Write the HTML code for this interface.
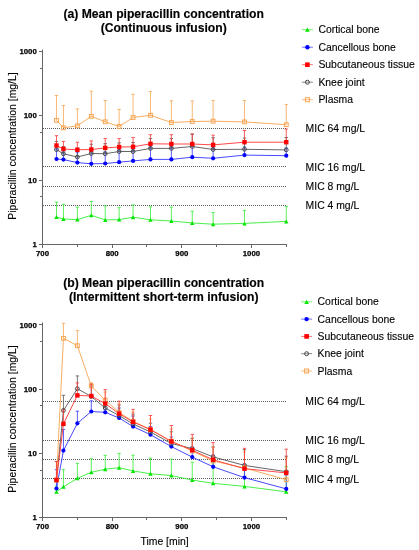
<!DOCTYPE html>
<html><head><meta charset="utf-8"><style>
html,body{margin:0;padding:0;background:#fff;width:419px;height:550px;overflow:hidden}
svg{display:block;will-change:transform}
.t{font-family:"Liberation Sans",sans-serif;font-size:10.4px;fill:#000;stroke:#000;stroke-width:0.12px}
.tk{font-family:"Liberation Sans",sans-serif;font-size:7.8px;font-weight:bold;fill:#000;stroke:#000;stroke-width:0.25px}
.ti{font-family:"Liberation Sans",sans-serif;font-size:12.15px;font-weight:bold;fill:#000;stroke:#000;stroke-width:0.15px}
</style></head><body>
<svg width="419" height="550" viewBox="0 0 419 550">
<path d="M43.0 128.50H287" stroke="#5a5a5a" stroke-width="1" stroke-dasharray="1 1" fill="none"/>
<text x="305.6" y="131.78" class="t">MIC 64 mg/L</text>
<path d="M43.0 166.50H287" stroke="#5a5a5a" stroke-width="1" stroke-dasharray="1 1" fill="none"/>
<text x="305.6" y="170.55" class="t">MIC 16 mg/L</text>
<path d="M43.0 186.50H287" stroke="#5a5a5a" stroke-width="1" stroke-dasharray="1 1" fill="none"/>
<text x="305.6" y="189.94" class="t">MIC 8 mg/L</text>
<path d="M43.0 205.50H287" stroke="#5a5a5a" stroke-width="1" stroke-dasharray="1 1" fill="none"/>
<text x="305.6" y="209.33" class="t">MIC 4 mg/L</text>
<path d="M42.5 49.50V245.00M42.0 244.50H287" stroke="#666" stroke-width="1" fill="none"/>
<path d="M39.0 51.50H42.5" stroke="#666" stroke-width="1"/>
<text x="36.8" y="54.00" class="tk" text-anchor="end">1000</text>
<path d="M39.0 115.50H42.5" stroke="#666" stroke-width="1"/>
<text x="36.8" y="118.40" class="tk" text-anchor="end">100</text>
<path d="M39.0 180.50H42.5" stroke="#666" stroke-width="1"/>
<text x="36.8" y="182.80" class="tk" text-anchor="end">10</text>
<path d="M39.0 244.50H42.5" stroke="#666" stroke-width="1"/>
<text x="36.8" y="247.20" class="tk" text-anchor="end">1</text>
<path d="M40.0 68.50H42.5" stroke="#666" stroke-width="1"/>
<path d="M40.0 132.50H42.5" stroke="#666" stroke-width="1"/>
<path d="M40.0 196.50H42.5" stroke="#666" stroke-width="1"/>
<path d="M42.50 244.5V248.0" stroke="#666" stroke-width="1"/>
<text x="42.55" y="256.10" class="tk" text-anchor="middle">700</text>
<path d="M112.50 244.5V248.0" stroke="#666" stroke-width="1"/>
<text x="112.18" y="256.10" class="tk" text-anchor="middle">800</text>
<path d="M181.50 244.5V248.0" stroke="#666" stroke-width="1"/>
<text x="181.81" y="256.10" class="tk" text-anchor="middle">900</text>
<path d="M251.50 244.5V248.0" stroke="#666" stroke-width="1"/>
<text x="251.44" y="256.10" class="tk" text-anchor="middle">1000</text>
<path d="M77.50 244.5V247.0" stroke="#666" stroke-width="1"/>
<path d="M146.50 244.5V247.0" stroke="#666" stroke-width="1"/>
<path d="M216.50 244.5V247.0" stroke="#666" stroke-width="1"/>
<path d="M286.50 244.5V247.0" stroke="#666" stroke-width="1"/>
<text x="163.7" y="17.90" class="ti" text-anchor="middle">(a) Mean piperacillin concentration</text>
<text x="163.7" y="31.85" class="ti" text-anchor="middle">(Continuous infusion)</text>
<text x="0" y="0" class="t" text-anchor="middle" transform="translate(15.6 146) rotate(-90)">Piperacillin concentration [mg/L]</text>
<path d="M301.9 29.70H312.9" stroke="#33ee33" stroke-width="1" stroke-opacity="0.7"/>
<path d="M305.09 31.80L307.40 27.60L309.71 31.80Z" fill="#00e600"/>
<text x="318.4" y="33.30" class="t">Cortical bone</text>
<path d="M301.9 47.20H312.9" stroke="#3333ff" stroke-width="1" stroke-opacity="0.7"/>
<circle cx="307.40" cy="47.20" r="2.21" fill="#0000ff"/>
<text x="318.4" y="50.80" class="t">Cancellous bone</text>
<path d="M301.9 64.70H312.9" stroke="#ff3333" stroke-width="1" stroke-opacity="0.7"/>
<rect x="305.09" y="62.39" width="4.62" height="4.62" fill="#ff0000"/>
<text x="318.4" y="68.30" class="t">Subcutaneous tissue</text>
<path d="M301.9 82.20H312.9" stroke="#555555" stroke-width="1" stroke-opacity="0.7"/>
<circle cx="307.40" cy="82.20" r="1.99" fill="none" stroke="#444444" stroke-width="1"/>
<text x="318.4" y="85.80" class="t">Knee joint</text>
<path d="M301.9 99.70H312.9" stroke="#f7a450" stroke-width="1" stroke-opacity="0.7"/>
<rect x="305.40" y="97.70" width="3.99" height="3.99" fill="none" stroke="#f7a450" stroke-width="1"/>
<text x="318.4" y="103.30" class="t">Plasma</text>
<path d="M56.48 217.10V202.10M54.78 202.10H58.18" stroke="#33ee33" stroke-width="0.8" fill="none"/>
<path d="M63.44 219.00V204.40M61.74 204.40H65.14" stroke="#33ee33" stroke-width="0.8" fill="none"/>
<path d="M77.37 219.60V207.20M75.67 207.20H79.07" stroke="#33ee33" stroke-width="0.8" fill="none"/>
<path d="M91.29 215.30V201.50M89.59 201.50H92.99" stroke="#33ee33" stroke-width="0.8" fill="none"/>
<path d="M105.22 219.90V205.80M103.52 205.80H106.92" stroke="#33ee33" stroke-width="0.8" fill="none"/>
<path d="M119.14 219.60V207.70M117.44 207.70H120.84" stroke="#33ee33" stroke-width="0.8" fill="none"/>
<path d="M133.07 217.20V204.80M131.37 204.80H134.77" stroke="#33ee33" stroke-width="0.8" fill="none"/>
<path d="M150.48 219.80V206.80M148.78 206.80H152.18" stroke="#33ee33" stroke-width="0.8" fill="none"/>
<path d="M171.37 221.00V207.20M169.67 207.20H173.07" stroke="#33ee33" stroke-width="0.8" fill="none"/>
<path d="M192.25 223.00V211.20M190.55 211.20H193.95" stroke="#33ee33" stroke-width="0.8" fill="none"/>
<path d="M213.14 224.20V212.50M211.44 212.50H214.84" stroke="#33ee33" stroke-width="0.8" fill="none"/>
<path d="M244.48 223.40V210.40M242.78 210.40H246.18" stroke="#33ee33" stroke-width="0.8" fill="none"/>
<path d="M286.25 221.40V206.40M284.56 206.40H287.95" stroke="#33ee33" stroke-width="0.8" fill="none"/>
<path d="M56.48 217.10 L63.44 219.00 L77.37 219.60 L91.29 215.30 L105.22 219.90 L119.14 219.60 L133.07 217.20 L150.48 219.80 L171.37 221.00 L192.25 223.00 L213.14 224.20 L244.48 223.40 L286.25 221.40" stroke="#33ee33" stroke-width="0.9" fill="none"/>
<path d="M54.28 219.10L56.48 215.10L58.68 219.10Z" fill="#00e600"/>
<path d="M61.24 221.00L63.44 217.00L65.64 221.00Z" fill="#00e600"/>
<path d="M75.17 221.60L77.37 217.60L79.57 221.60Z" fill="#00e600"/>
<path d="M89.09 217.30L91.29 213.30L93.49 217.30Z" fill="#00e600"/>
<path d="M103.02 221.90L105.22 217.90L107.42 221.90Z" fill="#00e600"/>
<path d="M116.94 221.60L119.14 217.60L121.34 221.60Z" fill="#00e600"/>
<path d="M130.87 219.20L133.07 215.20L135.27 219.20Z" fill="#00e600"/>
<path d="M148.28 221.80L150.48 217.80L152.68 221.80Z" fill="#00e600"/>
<path d="M169.17 223.00L171.37 219.00L173.57 223.00Z" fill="#00e600"/>
<path d="M190.05 225.00L192.25 221.00L194.45 225.00Z" fill="#00e600"/>
<path d="M210.94 226.20L213.14 222.20L215.34 226.20Z" fill="#00e600"/>
<path d="M242.28 225.40L244.48 221.40L246.68 225.40Z" fill="#00e600"/>
<path d="M284.06 223.40L286.25 219.40L288.45 223.40Z" fill="#00e600"/>
<path d="M56.48 159.00V149.00M54.78 149.00H58.18" stroke="#3333ff" stroke-width="0.8" fill="none"/>
<path d="M63.44 159.60V152.00M61.74 152.00H65.14" stroke="#3333ff" stroke-width="0.8" fill="none"/>
<path d="M77.37 162.60V152.20M75.67 152.20H79.07" stroke="#3333ff" stroke-width="0.8" fill="none"/>
<path d="M91.29 163.80V151.50M89.59 151.50H92.99" stroke="#3333ff" stroke-width="0.8" fill="none"/>
<path d="M105.22 163.50V152.00M103.52 152.00H106.92" stroke="#3333ff" stroke-width="0.8" fill="none"/>
<path d="M119.14 162.20V150.00M117.44 150.00H120.84" stroke="#3333ff" stroke-width="0.8" fill="none"/>
<path d="M133.07 160.90V150.00M131.37 150.00H134.77" stroke="#3333ff" stroke-width="0.8" fill="none"/>
<path d="M150.48 159.40V147.00M148.78 147.00H152.18" stroke="#3333ff" stroke-width="0.8" fill="none"/>
<path d="M171.37 159.40V147.00M169.67 147.00H173.07" stroke="#3333ff" stroke-width="0.8" fill="none"/>
<path d="M192.25 157.20V145.00M190.55 145.00H193.95" stroke="#3333ff" stroke-width="0.8" fill="none"/>
<path d="M213.14 158.30V148.00M211.44 148.00H214.84" stroke="#3333ff" stroke-width="0.8" fill="none"/>
<path d="M244.48 155.10V147.00M242.78 147.00H246.18" stroke="#3333ff" stroke-width="0.8" fill="none"/>
<path d="M286.25 155.70V148.00M284.56 148.00H287.95" stroke="#3333ff" stroke-width="0.8" fill="none"/>
<path d="M56.48 159.00 L63.44 159.60 L77.37 162.60 L91.29 163.80 L105.22 163.50 L119.14 162.20 L133.07 160.90 L150.48 159.40 L171.37 159.40 L192.25 157.20 L213.14 158.30 L244.48 155.10 L286.25 155.70" stroke="#3333ff" stroke-width="0.9" fill="none"/>
<circle cx="56.48" cy="159.00" r="2.10" fill="#0000ff"/>
<circle cx="63.44" cy="159.60" r="2.10" fill="#0000ff"/>
<circle cx="77.37" cy="162.60" r="2.10" fill="#0000ff"/>
<circle cx="91.29" cy="163.80" r="2.10" fill="#0000ff"/>
<circle cx="105.22" cy="163.50" r="2.10" fill="#0000ff"/>
<circle cx="119.14" cy="162.20" r="2.10" fill="#0000ff"/>
<circle cx="133.07" cy="160.90" r="2.10" fill="#0000ff"/>
<circle cx="150.48" cy="159.40" r="2.10" fill="#0000ff"/>
<circle cx="171.37" cy="159.40" r="2.10" fill="#0000ff"/>
<circle cx="192.25" cy="157.20" r="2.10" fill="#0000ff"/>
<circle cx="213.14" cy="158.30" r="2.10" fill="#0000ff"/>
<circle cx="244.48" cy="155.10" r="2.10" fill="#0000ff"/>
<circle cx="286.25" cy="155.70" r="2.10" fill="#0000ff"/>
<path d="M56.48 149.60V141.40M54.78 141.40H58.18" stroke="#555555" stroke-width="0.8" fill="none"/>
<path d="M63.44 153.80V146.50M61.74 146.50H65.14" stroke="#555555" stroke-width="0.8" fill="none"/>
<path d="M77.37 157.00V148.00M75.67 148.00H79.07" stroke="#555555" stroke-width="0.8" fill="none"/>
<path d="M91.29 153.50V144.20M89.59 144.20H92.99" stroke="#555555" stroke-width="0.8" fill="none"/>
<path d="M105.22 153.70V143.60M103.52 143.60H106.92" stroke="#555555" stroke-width="0.8" fill="none"/>
<path d="M119.14 151.50V142.90M117.44 142.90H120.84" stroke="#555555" stroke-width="0.8" fill="none"/>
<path d="M133.07 151.50V142.50M131.37 142.50H134.77" stroke="#555555" stroke-width="0.8" fill="none"/>
<path d="M150.48 148.40V138.60M148.78 138.60H152.18" stroke="#555555" stroke-width="0.8" fill="none"/>
<path d="M171.37 148.40V138.60M169.67 138.60H173.07" stroke="#555555" stroke-width="0.8" fill="none"/>
<path d="M192.25 146.50V134.30M190.55 134.30H193.95" stroke="#555555" stroke-width="0.8" fill="none"/>
<path d="M213.14 149.50V137.70M211.44 137.70H214.84" stroke="#555555" stroke-width="0.8" fill="none"/>
<path d="M244.48 149.30V138.10M242.78 138.10H246.18" stroke="#555555" stroke-width="0.8" fill="none"/>
<path d="M286.25 149.90V137.50M284.56 137.50H287.95" stroke="#555555" stroke-width="0.8" fill="none"/>
<path d="M56.48 149.60 L63.44 153.80 L77.37 157.00 L91.29 153.50 L105.22 153.70 L119.14 151.50 L133.07 151.50 L150.48 148.40 L171.37 148.40 L192.25 146.50 L213.14 149.50 L244.48 149.30 L286.25 149.90" stroke="#555555" stroke-width="0.9" fill="none"/>
<circle cx="56.48" cy="149.60" r="1.90" fill="none" stroke="#444444" stroke-width="1"/>
<circle cx="63.44" cy="153.80" r="1.90" fill="none" stroke="#444444" stroke-width="1"/>
<circle cx="77.37" cy="157.00" r="1.90" fill="none" stroke="#444444" stroke-width="1"/>
<circle cx="91.29" cy="153.50" r="1.90" fill="none" stroke="#444444" stroke-width="1"/>
<circle cx="105.22" cy="153.70" r="1.90" fill="none" stroke="#444444" stroke-width="1"/>
<circle cx="119.14" cy="151.50" r="1.90" fill="none" stroke="#444444" stroke-width="1"/>
<circle cx="133.07" cy="151.50" r="1.90" fill="none" stroke="#444444" stroke-width="1"/>
<circle cx="150.48" cy="148.40" r="1.90" fill="none" stroke="#444444" stroke-width="1"/>
<circle cx="171.37" cy="148.40" r="1.90" fill="none" stroke="#444444" stroke-width="1"/>
<circle cx="192.25" cy="146.50" r="1.90" fill="none" stroke="#444444" stroke-width="1"/>
<circle cx="213.14" cy="149.50" r="1.90" fill="none" stroke="#444444" stroke-width="1"/>
<circle cx="244.48" cy="149.30" r="1.90" fill="none" stroke="#444444" stroke-width="1"/>
<circle cx="286.25" cy="149.90" r="1.90" fill="none" stroke="#444444" stroke-width="1"/>
<path d="M56.48 120.40V95.50M54.78 95.50H58.18" stroke="#f7a450" stroke-width="0.8" fill="none"/>
<path d="M63.44 127.80V105.50M61.74 105.50H65.14" stroke="#f7a450" stroke-width="0.8" fill="none"/>
<path d="M77.37 125.80V108.90M75.67 108.90H79.07" stroke="#f7a450" stroke-width="0.8" fill="none"/>
<path d="M91.29 116.30V91.20M89.59 91.20H92.99" stroke="#f7a450" stroke-width="0.8" fill="none"/>
<path d="M105.22 121.80V100.50M103.52 100.50H106.92" stroke="#f7a450" stroke-width="0.8" fill="none"/>
<path d="M119.14 126.50V109.40M117.44 109.40H120.84" stroke="#f7a450" stroke-width="0.8" fill="none"/>
<path d="M133.07 117.50V94.30M131.37 94.30H134.77" stroke="#f7a450" stroke-width="0.8" fill="none"/>
<path d="M150.48 115.30V91.50M148.78 91.50H152.18" stroke="#f7a450" stroke-width="0.8" fill="none"/>
<path d="M171.37 122.50V100.80M169.67 100.80H173.07" stroke="#f7a450" stroke-width="0.8" fill="none"/>
<path d="M192.25 121.50V101.00M190.55 101.00H193.95" stroke="#f7a450" stroke-width="0.8" fill="none"/>
<path d="M213.14 121.20V100.50M211.44 100.50H214.84" stroke="#f7a450" stroke-width="0.8" fill="none"/>
<path d="M244.48 121.90V100.50M242.78 100.50H246.18" stroke="#f7a450" stroke-width="0.8" fill="none"/>
<path d="M286.25 124.70V104.60M284.56 104.60H287.95" stroke="#f7a450" stroke-width="0.8" fill="none"/>
<path d="M56.48 120.40 L63.44 127.80 L77.37 125.80 L91.29 116.30 L105.22 121.80 L119.14 126.50 L133.07 117.50 L150.48 115.30 L171.37 122.50 L192.25 121.50 L213.14 121.20 L244.48 121.90 L286.25 124.70" stroke="#f7a450" stroke-width="0.9" fill="none"/>
<rect x="54.58" y="118.50" width="3.80" height="3.80" fill="none" stroke="#f7a450" stroke-width="1"/>
<rect x="61.54" y="125.90" width="3.80" height="3.80" fill="none" stroke="#f7a450" stroke-width="1"/>
<rect x="75.47" y="123.90" width="3.80" height="3.80" fill="none" stroke="#f7a450" stroke-width="1"/>
<rect x="89.39" y="114.40" width="3.80" height="3.80" fill="none" stroke="#f7a450" stroke-width="1"/>
<rect x="103.32" y="119.90" width="3.80" height="3.80" fill="none" stroke="#f7a450" stroke-width="1"/>
<rect x="117.24" y="124.60" width="3.80" height="3.80" fill="none" stroke="#f7a450" stroke-width="1"/>
<rect x="131.17" y="115.60" width="3.80" height="3.80" fill="none" stroke="#f7a450" stroke-width="1"/>
<rect x="148.58" y="113.40" width="3.80" height="3.80" fill="none" stroke="#f7a450" stroke-width="1"/>
<rect x="169.47" y="120.60" width="3.80" height="3.80" fill="none" stroke="#f7a450" stroke-width="1"/>
<rect x="190.35" y="119.60" width="3.80" height="3.80" fill="none" stroke="#f7a450" stroke-width="1"/>
<rect x="211.24" y="119.30" width="3.80" height="3.80" fill="none" stroke="#f7a450" stroke-width="1"/>
<rect x="242.58" y="120.00" width="3.80" height="3.80" fill="none" stroke="#f7a450" stroke-width="1"/>
<rect x="284.36" y="122.80" width="3.80" height="3.80" fill="none" stroke="#f7a450" stroke-width="1"/>
<path d="M56.48 145.50V135.70M54.78 135.70H58.18" stroke="#ff3333" stroke-width="0.8" fill="none"/>
<path d="M63.44 149.00V141.40M61.74 141.40H65.14" stroke="#ff3333" stroke-width="0.8" fill="none"/>
<path d="M77.37 149.80V142.30M75.67 142.30H79.07" stroke="#ff3333" stroke-width="0.8" fill="none"/>
<path d="M91.29 149.50V140.90M89.59 140.90H92.99" stroke="#ff3333" stroke-width="0.8" fill="none"/>
<path d="M105.22 147.90V138.50M103.52 138.50H106.92" stroke="#ff3333" stroke-width="0.8" fill="none"/>
<path d="M119.14 147.00V138.50M117.44 138.50H120.84" stroke="#ff3333" stroke-width="0.8" fill="none"/>
<path d="M133.07 146.80V137.60M131.37 137.60H134.77" stroke="#ff3333" stroke-width="0.8" fill="none"/>
<path d="M150.48 143.80V134.70M148.78 134.70H152.18" stroke="#ff3333" stroke-width="0.8" fill="none"/>
<path d="M171.37 144.00V134.70M169.67 134.70H173.07" stroke="#ff3333" stroke-width="0.8" fill="none"/>
<path d="M192.25 144.00V133.90M190.55 133.90H193.95" stroke="#ff3333" stroke-width="0.8" fill="none"/>
<path d="M213.14 144.90V135.20M211.44 135.20H214.84" stroke="#ff3333" stroke-width="0.8" fill="none"/>
<path d="M244.48 142.20V130.40M242.78 130.40H246.18" stroke="#ff3333" stroke-width="0.8" fill="none"/>
<path d="M286.25 142.20V129.00M284.56 129.00H287.95" stroke="#ff3333" stroke-width="0.8" fill="none"/>
<path d="M56.48 145.50 L63.44 149.00 L77.37 149.80 L91.29 149.50 L105.22 147.90 L119.14 147.00 L133.07 146.80 L150.48 143.80 L171.37 144.00 L192.25 144.00 L213.14 144.90 L244.48 142.20 L286.25 142.20" stroke="#ff3333" stroke-width="0.9" fill="none"/>
<rect x="54.28" y="143.30" width="4.40" height="4.40" fill="#ff0000"/>
<rect x="61.24" y="146.80" width="4.40" height="4.40" fill="#ff0000"/>
<rect x="75.17" y="147.60" width="4.40" height="4.40" fill="#ff0000"/>
<rect x="89.09" y="147.30" width="4.40" height="4.40" fill="#ff0000"/>
<rect x="103.02" y="145.70" width="4.40" height="4.40" fill="#ff0000"/>
<rect x="116.94" y="144.80" width="4.40" height="4.40" fill="#ff0000"/>
<rect x="130.87" y="144.60" width="4.40" height="4.40" fill="#ff0000"/>
<rect x="148.28" y="141.60" width="4.40" height="4.40" fill="#ff0000"/>
<rect x="169.17" y="141.80" width="4.40" height="4.40" fill="#ff0000"/>
<rect x="190.05" y="141.80" width="4.40" height="4.40" fill="#ff0000"/>
<rect x="210.94" y="142.70" width="4.40" height="4.40" fill="#ff0000"/>
<rect x="242.28" y="140.00" width="4.40" height="4.40" fill="#ff0000"/>
<rect x="284.06" y="140.00" width="4.40" height="4.40" fill="#ff0000"/>
<path d="M43.0 401.50H287" stroke="#5a5a5a" stroke-width="1" stroke-dasharray="1 1" fill="none"/>
<text x="305.3" y="405.15" class="t">MIC 64 mg/L</text>
<path d="M43.0 440.50H287" stroke="#5a5a5a" stroke-width="1" stroke-dasharray="1 1" fill="none"/>
<text x="305.3" y="443.84" class="t">MIC 16 mg/L</text>
<path d="M43.0 459.50H287" stroke="#5a5a5a" stroke-width="1" stroke-dasharray="1 1" fill="none"/>
<text x="305.3" y="463.18" class="t">MIC 8 mg/L</text>
<path d="M43.0 478.50H287" stroke="#5a5a5a" stroke-width="1" stroke-dasharray="1 1" fill="none"/>
<text x="305.3" y="482.52" class="t">MIC 4 mg/L</text>
<path d="M42.5 322.50V518.00M42.0 517.50H287" stroke="#666" stroke-width="1" fill="none"/>
<path d="M39.0 324.50H42.5" stroke="#666" stroke-width="1"/>
<text x="36.8" y="327.55" class="tk" text-anchor="end">1000</text>
<path d="M39.0 389.50H42.5" stroke="#666" stroke-width="1"/>
<text x="36.8" y="391.80" class="tk" text-anchor="end">100</text>
<path d="M39.0 453.50H42.5" stroke="#666" stroke-width="1"/>
<text x="36.8" y="456.05" class="tk" text-anchor="end">10</text>
<path d="M39.0 517.50H42.5" stroke="#666" stroke-width="1"/>
<text x="36.8" y="520.30" class="tk" text-anchor="end">1</text>
<path d="M40.0 341.50H42.5" stroke="#666" stroke-width="1"/>
<path d="M40.0 405.50H42.5" stroke="#666" stroke-width="1"/>
<path d="M40.0 470.50H42.5" stroke="#666" stroke-width="1"/>
<path d="M42.50 517.5V521.0" stroke="#666" stroke-width="1"/>
<text x="42.55" y="529.20" class="tk" text-anchor="middle">700</text>
<path d="M112.50 517.5V521.0" stroke="#666" stroke-width="1"/>
<text x="112.18" y="529.20" class="tk" text-anchor="middle">800</text>
<path d="M181.50 517.5V521.0" stroke="#666" stroke-width="1"/>
<text x="181.81" y="529.20" class="tk" text-anchor="middle">900</text>
<path d="M251.50 517.5V521.0" stroke="#666" stroke-width="1"/>
<text x="251.44" y="529.20" class="tk" text-anchor="middle">1000</text>
<path d="M77.50 517.5V520.0" stroke="#666" stroke-width="1"/>
<path d="M146.50 517.5V520.0" stroke="#666" stroke-width="1"/>
<path d="M216.50 517.5V520.0" stroke="#666" stroke-width="1"/>
<path d="M286.50 517.5V520.0" stroke="#666" stroke-width="1"/>
<text x="163.7" y="287.00" class="ti" text-anchor="middle">(b) Mean piperacillin concentration</text>
<text x="163.7" y="300.95" class="ti" text-anchor="middle">(Intermittent short-term infusion)</text>
<text x="0" y="0" class="t" text-anchor="middle" transform="translate(15.6 419) rotate(-90)">Piperacillin concentration [mg/L]</text>
<path d="M301.1 301.80H312.1" stroke="#33ee33" stroke-width="1" stroke-opacity="0.7"/>
<path d="M304.29 303.90L306.60 299.70L308.91 303.90Z" fill="#00e600"/>
<text x="317.6" y="305.40" class="t">Cortical bone</text>
<path d="M301.1 319.10H312.1" stroke="#3333ff" stroke-width="1" stroke-opacity="0.7"/>
<circle cx="306.60" cy="319.10" r="2.21" fill="#0000ff"/>
<text x="317.6" y="322.70" class="t">Cancellous bone</text>
<path d="M301.1 336.40H312.1" stroke="#ff3333" stroke-width="1" stroke-opacity="0.7"/>
<rect x="304.29" y="334.09" width="4.62" height="4.62" fill="#ff0000"/>
<text x="317.6" y="340.00" class="t">Subcutaneous tissue</text>
<path d="M301.1 353.70H312.1" stroke="#555555" stroke-width="1" stroke-opacity="0.7"/>
<circle cx="306.60" cy="353.70" r="1.99" fill="none" stroke="#444444" stroke-width="1"/>
<text x="317.6" y="357.30" class="t">Knee joint</text>
<path d="M301.1 371.00H312.1" stroke="#f7a450" stroke-width="1" stroke-opacity="0.7"/>
<rect x="304.61" y="369.00" width="3.99" height="3.99" fill="none" stroke="#f7a450" stroke-width="1"/>
<text x="317.6" y="374.60" class="t">Plasma</text>
<path d="M56.48 491.70V486.00M54.78 486.00H58.18" stroke="#33ee33" stroke-width="0.8" fill="none"/>
<path d="M63.44 486.80V469.60M61.74 469.60H65.14" stroke="#33ee33" stroke-width="0.8" fill="none"/>
<path d="M77.37 478.30V463.40M75.67 463.40H79.07" stroke="#33ee33" stroke-width="0.8" fill="none"/>
<path d="M91.29 472.30V458.70M89.59 458.70H92.99" stroke="#33ee33" stroke-width="0.8" fill="none"/>
<path d="M105.22 469.20V455.30M103.52 455.30H106.92" stroke="#33ee33" stroke-width="0.8" fill="none"/>
<path d="M119.14 467.70V453.40M117.44 453.40H120.84" stroke="#33ee33" stroke-width="0.8" fill="none"/>
<path d="M133.07 470.90V455.30M131.37 455.30H134.77" stroke="#33ee33" stroke-width="0.8" fill="none"/>
<path d="M150.48 473.80V458.10M148.78 458.10H152.18" stroke="#33ee33" stroke-width="0.8" fill="none"/>
<path d="M171.37 475.50V459.20M169.67 459.20H173.07" stroke="#33ee33" stroke-width="0.8" fill="none"/>
<path d="M192.25 480.10V462.30M190.55 462.30H193.95" stroke="#33ee33" stroke-width="0.8" fill="none"/>
<path d="M213.14 483.30V462.00M211.44 462.00H214.84" stroke="#33ee33" stroke-width="0.8" fill="none"/>
<path d="M244.48 486.40V466.00M242.78 466.00H246.18" stroke="#33ee33" stroke-width="0.8" fill="none"/>
<path d="M286.25 491.80V466.70M284.56 466.70H287.95" stroke="#33ee33" stroke-width="0.8" fill="none"/>
<path d="M56.48 491.70 L63.44 486.80 L77.37 478.30 L91.29 472.30 L105.22 469.20 L119.14 467.70 L133.07 470.90 L150.48 473.80 L171.37 475.50 L192.25 480.10 L213.14 483.30 L244.48 486.40 L286.25 491.80" stroke="#33ee33" stroke-width="0.9" fill="none"/>
<path d="M54.28 493.70L56.48 489.70L58.68 493.70Z" fill="#00e600"/>
<path d="M61.24 488.80L63.44 484.80L65.64 488.80Z" fill="#00e600"/>
<path d="M75.17 480.30L77.37 476.30L79.57 480.30Z" fill="#00e600"/>
<path d="M89.09 474.30L91.29 470.30L93.49 474.30Z" fill="#00e600"/>
<path d="M103.02 471.20L105.22 467.20L107.42 471.20Z" fill="#00e600"/>
<path d="M116.94 469.70L119.14 465.70L121.34 469.70Z" fill="#00e600"/>
<path d="M130.87 472.90L133.07 468.90L135.27 472.90Z" fill="#00e600"/>
<path d="M148.28 475.80L150.48 471.80L152.68 475.80Z" fill="#00e600"/>
<path d="M169.17 477.50L171.37 473.50L173.57 477.50Z" fill="#00e600"/>
<path d="M190.05 482.10L192.25 478.10L194.45 482.10Z" fill="#00e600"/>
<path d="M210.94 485.30L213.14 481.30L215.34 485.30Z" fill="#00e600"/>
<path d="M242.28 488.40L244.48 484.40L246.68 488.40Z" fill="#00e600"/>
<path d="M284.06 493.80L286.25 489.80L288.45 493.80Z" fill="#00e600"/>
<path d="M56.48 488.50V469.70M54.78 469.70H58.18" stroke="#3333ff" stroke-width="0.8" fill="none"/>
<path d="M63.44 450.60V429.40M61.74 429.40H65.14" stroke="#3333ff" stroke-width="0.8" fill="none"/>
<path d="M77.37 423.30V411.20M75.67 411.20H79.07" stroke="#3333ff" stroke-width="0.8" fill="none"/>
<path d="M91.29 411.50V400.80M89.59 400.80H92.99" stroke="#3333ff" stroke-width="0.8" fill="none"/>
<path d="M105.22 412.30V404.00M103.52 404.00H106.92" stroke="#3333ff" stroke-width="0.8" fill="none"/>
<path d="M119.14 418.00V408.00M117.44 408.00H120.84" stroke="#3333ff" stroke-width="0.8" fill="none"/>
<path d="M133.07 426.60V416.00M131.37 416.00H134.77" stroke="#3333ff" stroke-width="0.8" fill="none"/>
<path d="M150.48 434.70V426.50M148.78 426.50H152.18" stroke="#3333ff" stroke-width="0.8" fill="none"/>
<path d="M171.37 446.60V437.00M169.67 437.00H173.07" stroke="#3333ff" stroke-width="0.8" fill="none"/>
<path d="M192.25 457.10V447.00M190.55 447.00H193.95" stroke="#3333ff" stroke-width="0.8" fill="none"/>
<path d="M213.14 466.80V455.00M211.44 455.00H214.84" stroke="#3333ff" stroke-width="0.8" fill="none"/>
<path d="M244.48 477.60V464.00M242.78 464.00H246.18" stroke="#3333ff" stroke-width="0.8" fill="none"/>
<path d="M286.25 488.90V475.00M284.56 475.00H287.95" stroke="#3333ff" stroke-width="0.8" fill="none"/>
<path d="M56.48 488.50 L63.44 450.60 L77.37 423.30 L91.29 411.50 L105.22 412.30 L119.14 418.00 L133.07 426.60 L150.48 434.70 L171.37 446.60 L192.25 457.10 L213.14 466.80 L244.48 477.60 L286.25 488.90" stroke="#3333ff" stroke-width="0.9" fill="none"/>
<circle cx="56.48" cy="488.50" r="2.10" fill="#0000ff"/>
<circle cx="63.44" cy="450.60" r="2.10" fill="#0000ff"/>
<circle cx="77.37" cy="423.30" r="2.10" fill="#0000ff"/>
<circle cx="91.29" cy="411.50" r="2.10" fill="#0000ff"/>
<circle cx="105.22" cy="412.30" r="2.10" fill="#0000ff"/>
<circle cx="119.14" cy="418.00" r="2.10" fill="#0000ff"/>
<circle cx="133.07" cy="426.60" r="2.10" fill="#0000ff"/>
<circle cx="150.48" cy="434.70" r="2.10" fill="#0000ff"/>
<circle cx="171.37" cy="446.60" r="2.10" fill="#0000ff"/>
<circle cx="192.25" cy="457.10" r="2.10" fill="#0000ff"/>
<circle cx="213.14" cy="466.80" r="2.10" fill="#0000ff"/>
<circle cx="244.48" cy="477.60" r="2.10" fill="#0000ff"/>
<circle cx="286.25" cy="488.90" r="2.10" fill="#0000ff"/>
<path d="M56.48 480.00V461.50M54.78 461.50H58.18" stroke="#555555" stroke-width="0.8" fill="none"/>
<path d="M63.44 410.50V395.30M61.74 395.30H65.14" stroke="#555555" stroke-width="0.8" fill="none"/>
<path d="M77.37 388.70V375.90M75.67 375.90H79.07" stroke="#555555" stroke-width="0.8" fill="none"/>
<path d="M91.29 396.50V386.00M89.59 386.00H92.99" stroke="#555555" stroke-width="0.8" fill="none"/>
<path d="M105.22 408.00V398.30M103.52 398.30H106.92" stroke="#555555" stroke-width="0.8" fill="none"/>
<path d="M119.14 415.60V405.00M117.44 405.00H120.84" stroke="#555555" stroke-width="0.8" fill="none"/>
<path d="M133.07 424.00V414.00M131.37 414.00H134.77" stroke="#555555" stroke-width="0.8" fill="none"/>
<path d="M150.48 432.00V423.20M148.78 423.20H152.18" stroke="#555555" stroke-width="0.8" fill="none"/>
<path d="M171.37 443.50V431.80M169.67 431.80H173.07" stroke="#555555" stroke-width="0.8" fill="none"/>
<path d="M192.25 448.60V438.40M190.55 438.40H193.95" stroke="#555555" stroke-width="0.8" fill="none"/>
<path d="M213.14 456.90V447.00M211.44 447.00H214.84" stroke="#555555" stroke-width="0.8" fill="none"/>
<path d="M244.48 465.40V449.70M242.78 449.70H246.18" stroke="#555555" stroke-width="0.8" fill="none"/>
<path d="M286.25 471.70V456.20M284.56 456.20H287.95" stroke="#555555" stroke-width="0.8" fill="none"/>
<path d="M56.48 480.00 L63.44 410.50 L77.37 388.70 L91.29 396.50 L105.22 408.00 L119.14 415.60 L133.07 424.00 L150.48 432.00 L171.37 443.50 L192.25 448.60 L213.14 456.90 L244.48 465.40 L286.25 471.70" stroke="#555555" stroke-width="0.9" fill="none"/>
<circle cx="56.48" cy="480.00" r="1.90" fill="none" stroke="#444444" stroke-width="1"/>
<circle cx="63.44" cy="410.50" r="1.90" fill="none" stroke="#444444" stroke-width="1"/>
<circle cx="77.37" cy="388.70" r="1.90" fill="none" stroke="#444444" stroke-width="1"/>
<circle cx="91.29" cy="396.50" r="1.90" fill="none" stroke="#444444" stroke-width="1"/>
<circle cx="105.22" cy="408.00" r="1.90" fill="none" stroke="#444444" stroke-width="1"/>
<circle cx="119.14" cy="415.60" r="1.90" fill="none" stroke="#444444" stroke-width="1"/>
<circle cx="133.07" cy="424.00" r="1.90" fill="none" stroke="#444444" stroke-width="1"/>
<circle cx="150.48" cy="432.00" r="1.90" fill="none" stroke="#444444" stroke-width="1"/>
<circle cx="171.37" cy="443.50" r="1.90" fill="none" stroke="#444444" stroke-width="1"/>
<circle cx="192.25" cy="448.60" r="1.90" fill="none" stroke="#444444" stroke-width="1"/>
<circle cx="213.14" cy="456.90" r="1.90" fill="none" stroke="#444444" stroke-width="1"/>
<circle cx="244.48" cy="465.40" r="1.90" fill="none" stroke="#444444" stroke-width="1"/>
<circle cx="286.25" cy="471.70" r="1.90" fill="none" stroke="#444444" stroke-width="1"/>
<path d="M56.48 480.00V461.50M54.78 461.50H58.18" stroke="#f7a450" stroke-width="0.8" fill="none"/>
<path d="M63.44 338.30V323.30M61.74 323.30H65.14" stroke="#f7a450" stroke-width="0.8" fill="none"/>
<path d="M77.37 345.70V330.50M75.67 330.50H79.07" stroke="#f7a450" stroke-width="0.8" fill="none"/>
<path d="M91.29 386.00V382.90M89.59 382.90H92.99" stroke="#f7a450" stroke-width="0.8" fill="none"/>
<path d="M105.22 400.30V392.00M103.52 392.00H106.92" stroke="#f7a450" stroke-width="0.8" fill="none"/>
<path d="M119.14 412.30V404.00M117.44 404.00H120.84" stroke="#f7a450" stroke-width="0.8" fill="none"/>
<path d="M133.07 421.40V412.00M131.37 412.00H134.77" stroke="#f7a450" stroke-width="0.8" fill="none"/>
<path d="M150.48 429.50V419.00M148.78 419.00H152.18" stroke="#f7a450" stroke-width="0.8" fill="none"/>
<path d="M171.37 441.20V429.00M169.67 429.00H173.07" stroke="#f7a450" stroke-width="0.8" fill="none"/>
<path d="M192.25 451.00V438.00M190.55 438.00H193.95" stroke="#f7a450" stroke-width="0.8" fill="none"/>
<path d="M213.14 461.00V447.00M211.44 447.00H214.84" stroke="#f7a450" stroke-width="0.8" fill="none"/>
<path d="M244.48 468.00V452.00M242.78 452.00H246.18" stroke="#f7a450" stroke-width="0.8" fill="none"/>
<path d="M286.25 479.70V458.00M284.56 458.00H287.95" stroke="#f7a450" stroke-width="0.8" fill="none"/>
<path d="M56.48 480.00 L63.44 338.30 L77.37 345.70 L91.29 386.00 L105.22 400.30 L119.14 412.30 L133.07 421.40 L150.48 429.50 L171.37 441.20 L192.25 451.00 L213.14 461.00 L244.48 468.00 L286.25 479.70" stroke="#f7a450" stroke-width="0.9" fill="none"/>
<rect x="54.58" y="478.10" width="3.80" height="3.80" fill="none" stroke="#f7a450" stroke-width="1"/>
<rect x="61.54" y="336.40" width="3.80" height="3.80" fill="none" stroke="#f7a450" stroke-width="1"/>
<rect x="75.47" y="343.80" width="3.80" height="3.80" fill="none" stroke="#f7a450" stroke-width="1"/>
<rect x="89.39" y="384.10" width="3.80" height="3.80" fill="none" stroke="#f7a450" stroke-width="1"/>
<rect x="103.32" y="398.40" width="3.80" height="3.80" fill="none" stroke="#f7a450" stroke-width="1"/>
<rect x="117.24" y="410.40" width="3.80" height="3.80" fill="none" stroke="#f7a450" stroke-width="1"/>
<rect x="131.17" y="419.50" width="3.80" height="3.80" fill="none" stroke="#f7a450" stroke-width="1"/>
<rect x="148.58" y="427.60" width="3.80" height="3.80" fill="none" stroke="#f7a450" stroke-width="1"/>
<rect x="169.47" y="439.30" width="3.80" height="3.80" fill="none" stroke="#f7a450" stroke-width="1"/>
<rect x="190.35" y="449.10" width="3.80" height="3.80" fill="none" stroke="#f7a450" stroke-width="1"/>
<rect x="211.24" y="459.10" width="3.80" height="3.80" fill="none" stroke="#f7a450" stroke-width="1"/>
<rect x="242.58" y="466.10" width="3.80" height="3.80" fill="none" stroke="#f7a450" stroke-width="1"/>
<rect x="284.36" y="477.80" width="3.80" height="3.80" fill="none" stroke="#f7a450" stroke-width="1"/>
<path d="M56.48 480.00V461.50M54.78 461.50H58.18" stroke="#ff3333" stroke-width="0.8" fill="none"/>
<path d="M63.44 423.90V410.00M61.74 410.00H65.14" stroke="#ff3333" stroke-width="0.8" fill="none"/>
<path d="M77.37 395.40V382.90M75.67 382.90H79.07" stroke="#ff3333" stroke-width="0.8" fill="none"/>
<path d="M91.29 396.00V384.00M89.59 384.00H92.99" stroke="#ff3333" stroke-width="0.8" fill="none"/>
<path d="M105.22 403.60V389.60M103.52 389.60H106.92" stroke="#ff3333" stroke-width="0.8" fill="none"/>
<path d="M119.14 413.70V401.20M117.44 401.20H120.84" stroke="#ff3333" stroke-width="0.8" fill="none"/>
<path d="M133.07 421.90V409.40M131.37 409.40H134.77" stroke="#ff3333" stroke-width="0.8" fill="none"/>
<path d="M150.48 429.70V415.50M148.78 415.50H152.18" stroke="#ff3333" stroke-width="0.8" fill="none"/>
<path d="M171.37 441.50V425.50M169.67 425.50H173.07" stroke="#ff3333" stroke-width="0.8" fill="none"/>
<path d="M192.25 450.20V434.40M190.55 434.40H193.95" stroke="#ff3333" stroke-width="0.8" fill="none"/>
<path d="M213.14 459.80V442.60M211.44 442.60H214.84" stroke="#ff3333" stroke-width="0.8" fill="none"/>
<path d="M244.48 468.70V448.30M242.78 448.30H246.18" stroke="#ff3333" stroke-width="0.8" fill="none"/>
<path d="M286.25 472.90V449.20M284.56 449.20H287.95" stroke="#ff3333" stroke-width="0.8" fill="none"/>
<path d="M56.48 480.00 L63.44 423.90 L77.37 395.40 L91.29 396.00 L105.22 403.60 L119.14 413.70 L133.07 421.90 L150.48 429.70 L171.37 441.50 L192.25 450.20 L213.14 459.80 L244.48 468.70 L286.25 472.90" stroke="#ff3333" stroke-width="0.9" fill="none"/>
<rect x="54.28" y="477.80" width="4.40" height="4.40" fill="#ff0000"/>
<rect x="61.24" y="421.70" width="4.40" height="4.40" fill="#ff0000"/>
<rect x="75.17" y="393.20" width="4.40" height="4.40" fill="#ff0000"/>
<rect x="89.09" y="393.80" width="4.40" height="4.40" fill="#ff0000"/>
<rect x="103.02" y="401.40" width="4.40" height="4.40" fill="#ff0000"/>
<rect x="116.94" y="411.50" width="4.40" height="4.40" fill="#ff0000"/>
<rect x="130.87" y="419.70" width="4.40" height="4.40" fill="#ff0000"/>
<rect x="148.28" y="427.50" width="4.40" height="4.40" fill="#ff0000"/>
<rect x="169.17" y="439.30" width="4.40" height="4.40" fill="#ff0000"/>
<rect x="190.05" y="448.00" width="4.40" height="4.40" fill="#ff0000"/>
<rect x="210.94" y="457.60" width="4.40" height="4.40" fill="#ff0000"/>
<rect x="242.28" y="466.50" width="4.40" height="4.40" fill="#ff0000"/>
<rect x="284.06" y="470.70" width="4.40" height="4.40" fill="#ff0000"/>
<text x="164.6" y="545" class="t" text-anchor="middle">Time [min]</text>
</svg></body></html>
